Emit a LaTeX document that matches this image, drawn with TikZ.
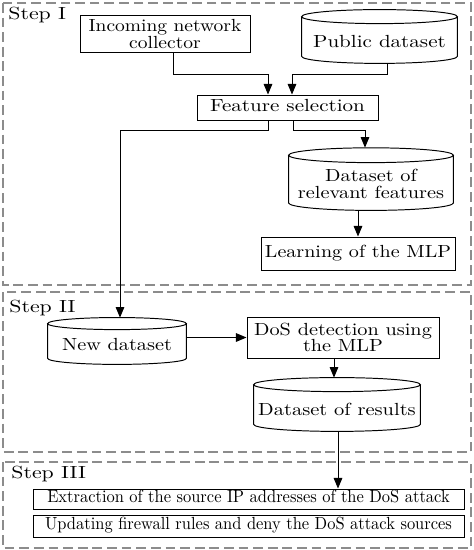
\documentclass[tikz,border=0pt]{standalone}
\usepackage{graphicx}
\usetikzlibrary{calc,arrows.meta}
\def\pxu{0.513pt}
\newcommand\tx[2][1.04]{\scalebox{#1}[0.9]{\renewcommand\arraystretch{0.72}\begin{tabular}{@{}c@{}}#2\end{tabular}}}
\newcommand\lowered[2]{\raisebox{-#1}[\height][\depth]{#2}}
\tikzset{
  box/.style={draw, rectangle, line width=0.5pt, inner sep=0pt},
  cylbody/.style={rectangle, inner sep=0pt},
  cylline/.style={line width=0.5pt},
  arr/.style={line width=0.5pt, -{Triangle[length=5.4pt,width=4.4pt]}},
  stepframe/.style={draw=gray!90, line width=0.9pt, dash pattern=on 5pt off 2.5pt},
  steplabel/.style={anchor=west, inner sep=0pt}
}
\newcommand\drawcyl[2]{%
  \draw[cylline] let \p1=(#1.north west), \p2=(#1.south east), \n1={(\x2-\x1)/2} in
    (\x1+\n1,\y1+#2) ellipse [x radius=\n1, y radius=#2]
    (\x1,\y1+#2) -- (\x1,\y2+#2) arc [start angle=180, end angle=360, x radius=\n1, y radius=#2] -- (\x2,\y1+#2);
}
\begin{document}
\begin{tikzpicture}[x=\pxu,y=-\pxu]
\useasboundingbox (0,0) rectangle (474,550);
% frames
\draw[stepframe] (3,3) rectangle (471,285);
\draw[stepframe] (3,292) rectangle (471,452);
\draw[stepframe] (3,462) rectangle (471,548);
\node[steplabel] (s1) at (8,16) {\tx[1.12]{Step I}};
\node[steplabel] (s2) at (9,309) {\tx[1.12]{Step II}};
\node[steplabel] (s3) at (11,475) {\tx[1.12]{Step III}};
% Step I
\node[box, minimum width=170*\pxu, minimum height=37*\pxu] (inc) at (165,33.5) {\lowered{1.5pt}{\tx[1.0]{Incoming network\\collector}}};
\node[cylbody, minimum width=155*\pxu, minimum height=39*\pxu] (pd) at (379.5,43.5) {\tx[1.08]{Public dataset}};
\drawcyl{pd}{3.6pt}
\node[box, minimum width=181*\pxu, minimum height=25*\pxu] (fs) at (287.5,107.5) {\tx[1.08]{Feature selection}};
\node[cylbody, minimum width=164*\pxu, minimum height=47*\pxu] (drf) at (371,186.5) {\tx{Dataset of\\relevant features}};
\drawcyl{drf}{3.8pt}
\node[box, minimum width=194*\pxu, minimum height=33*\pxu] (lm) at (358,253.5) {\tx[1.03]{Learning of the MLP}};
% Step II
\node[cylbody, minimum width=138*\pxu, minimum height=34*\pxu] (nd) at (117,347) {\tx{New dataset}};
\drawcyl{nd}{3.1pt}
\node[box, minimum width=192*\pxu, minimum height=41*\pxu] (dos) at (343,337.5) {\lowered{1pt}{\tx{DoS detection using\\the MLP}}};
\node[cylbody, minimum width=166*\pxu, minimum height=39*\pxu] (dr) at (337,411.5) {\tx[1.05]{Dataset of results}};
\drawcyl{dr}{3.6pt}
% Step III
\node[box, minimum width=431*\pxu, minimum height=20*\pxu] (ex) at (248.5,499) {\tx[0.845]{Extraction of the source IP addresses of the DoS attack}};
\node[box, minimum width=431*\pxu, minimum height=22*\pxu] (up) at (248.5,526) {\tx[0.845]{Updating firewall rules and deny the DoS attack sources}};
% connectors
\draw[arr] ($(inc.south)+(8,0)$) -- ++(0,22) -| ($(fs.north)+(-19.5,0)$);
\draw[arr] ($(pd.south)+(7.5,0)$) -- ++(0,11) -| ($(fs.north)+(4.5,0)$);
\draw[arr] ($(fs.south)+(-19.5,0)$) -- ++(0,10) -| ($(nd.north)+(3,-12)$);
\draw[arr] ($(fs.south)+(5.5,0)$) -- ++(0,10) -| ($(drf.north)+(-6,-15)$);
\draw[arr] (lm.north |- drf.south) -- (lm.north);
\draw[arr] (dos.west -| nd.east) -- (dos.west);
\draw[arr] ($(dos.south)+(-9,0)$) -- ($(dr.north)+(-3,-14)$);
\draw[arr] ($(dr.south)+(1,0)$) -- ($(dr.south |- ex.north)+(1,0)$);
\end{tikzpicture}
\end{document}
